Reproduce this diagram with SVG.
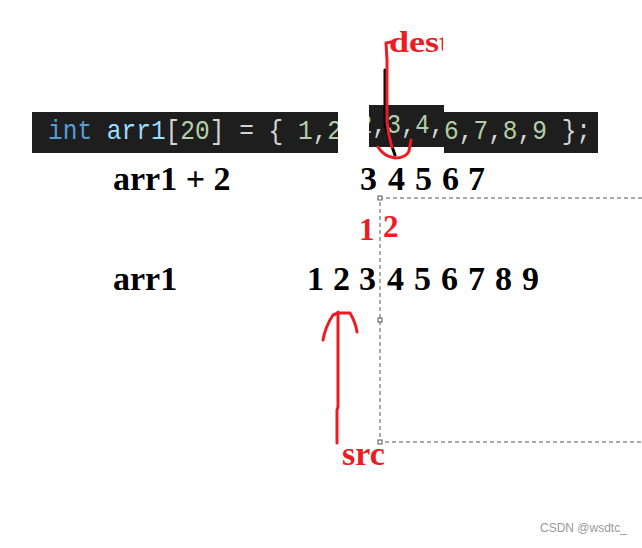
<svg xmlns="http://www.w3.org/2000/svg" width="642" height="548" viewBox="0 0 642 548">
<style>
.bar{fill:#1e1e1e}
.code{font-family:"Liberation Mono","DejaVu Sans Mono",monospace;font-size:28.5px;fill:#d4d4d4}
.kw{fill:#569cd6}
.var{fill:#9cdcfe}
.num{fill:#b5cea8}
.big{font-family:"Liberation Serif","DejaVu Serif",serif;font-weight:bold;font-size:34px;fill:#000}
.red{font-family:"Liberation Serif","DejaVu Serif",serif;font-weight:bold;fill:#ed1c24}
.ink{fill:none;stroke:#ed1c24;stroke-width:3;stroke-linecap:round;stroke-linejoin:round}
.dash{fill:none;stroke:#555;stroke-width:1;stroke-dasharray:4 3}
.handle{fill:#fff;stroke:#555;stroke-width:1}
</style>
<defs>
<clipPath id="c1"><rect x="32" y="112" width="306" height="41"/></clipPath>
<clipPath id="c2"><rect x="369" y="105" width="75" height="42"/></clipPath>
<clipPath id="c3"><rect x="444" y="112" width="154" height="41"/></clipPath>
<clipPath id="cd"><rect x="370" y="20" width="73" height="50"/></clipPath>
</defs>
<rect width="642" height="548" fill="#fff"/>

<g id="code1">
<rect class="bar" x="32" y="112" width="306" height="41"/>
<g clip-path="url(#c1)">
<g transform="translate(48,139) scale(0.86,1)">
<text class="code" x="0" y="0" xml:space="preserve"><tspan class="kw">int</tspan> <tspan class="var">arr1</tspan>[<tspan class="num">20</tspan>] = { <tspan class="num">1</tspan>,<tspan class="num">2</tspan></text>
</g>
</g>
</g>

<g id="code2">
<rect class="bar" x="369" y="105" width="75" height="42"/>
<g clip-path="url(#c2)">
<g transform="translate(358,133) scale(0.838,1)">
<text class="code" x="0" y="0"><tspan class="num">2</tspan>,<tspan class="num">3</tspan>,<tspan class="num">4</tspan>,</text>
</g>
</g>
</g>

<g id="code3">
<rect class="bar" x="444" y="112" width="154" height="41"/>
<g clip-path="url(#c3)">
<g transform="translate(444,139) scale(0.86,1)">
<text class="code" x="0" y="0" xml:space="preserve"><tspan class="num">6</tspan>,<tspan class="num">7</tspan>,<tspan class="num">8</tspan>,<tspan class="num">9</tspan> };</text>
</g>
</g>
</g>

<g id="dest-label">
<text class="red" clip-path="url(#cd)" x="389" y="52" font-size="30" textLength="62" lengthAdjust="spacingAndGlyphs">dest</text>
</g>

<g id="row-arr1-plus-2">
<text class="big" x="113" y="190">arr1 + 2</text>
<text class="big" x="360 377 388 405 415 432 442 459 468" y="190">3 4 5 6 7</text>
</g>

<g id="offsets">
<text class="red" x="359" y="240" font-size="31">1</text>
<text class="red" x="383" y="237" font-size="31">2</text>
</g>

<g id="row-arr1">
<text class="big" x="113" y="290">arr1</text>
<text class="big" x="307 324 333 350 359 376 387 404 414 431 441 458 468 485 495 512 522" y="290">1 2 3 4 5 6 7 8 9</text>
</g>

<g id="selection">
<path class="dash" d="M642,198 H380 V442 H642"/>
<rect class="handle" x="378" y="196" width="4" height="4"/>
<rect class="handle" x="378" y="318" width="4" height="4"/>
<rect class="handle" x="378" y="440" width="4" height="4"/>
</g>

<g id="src-label">
<text class="red" x="342" y="465" font-size="34">src</text>
</g>

<g id="connectors">
<path d="M385,70 L385,126 L390,141 L395,155" fill="none" stroke="#000" stroke-width="3" stroke-linecap="round" stroke-linejoin="round"/>
<path class="ink" d="M391,42 L386,43 L387,60 L387,122 L389,136 L392,147"/>
<path class="ink" d="M378,147 C381,152 387,157 395,158 C402,158 407,156 409,151 L411,140"/>
<path class="ink" d="M337,443 L337,410 L338,407 L338,312"/>
<path class="ink" d="M323,340 C324,333 328,322 333,315 L338,313 L350,313 C353,318 356,325 357,332"/>
</g>

<g id="watermark">
<text x="540" y="532" font-family="Liberation Sans, Arial, sans-serif" font-size="12" fill="#999">CSDN @wsdtc_</text>
</g>
</svg>
